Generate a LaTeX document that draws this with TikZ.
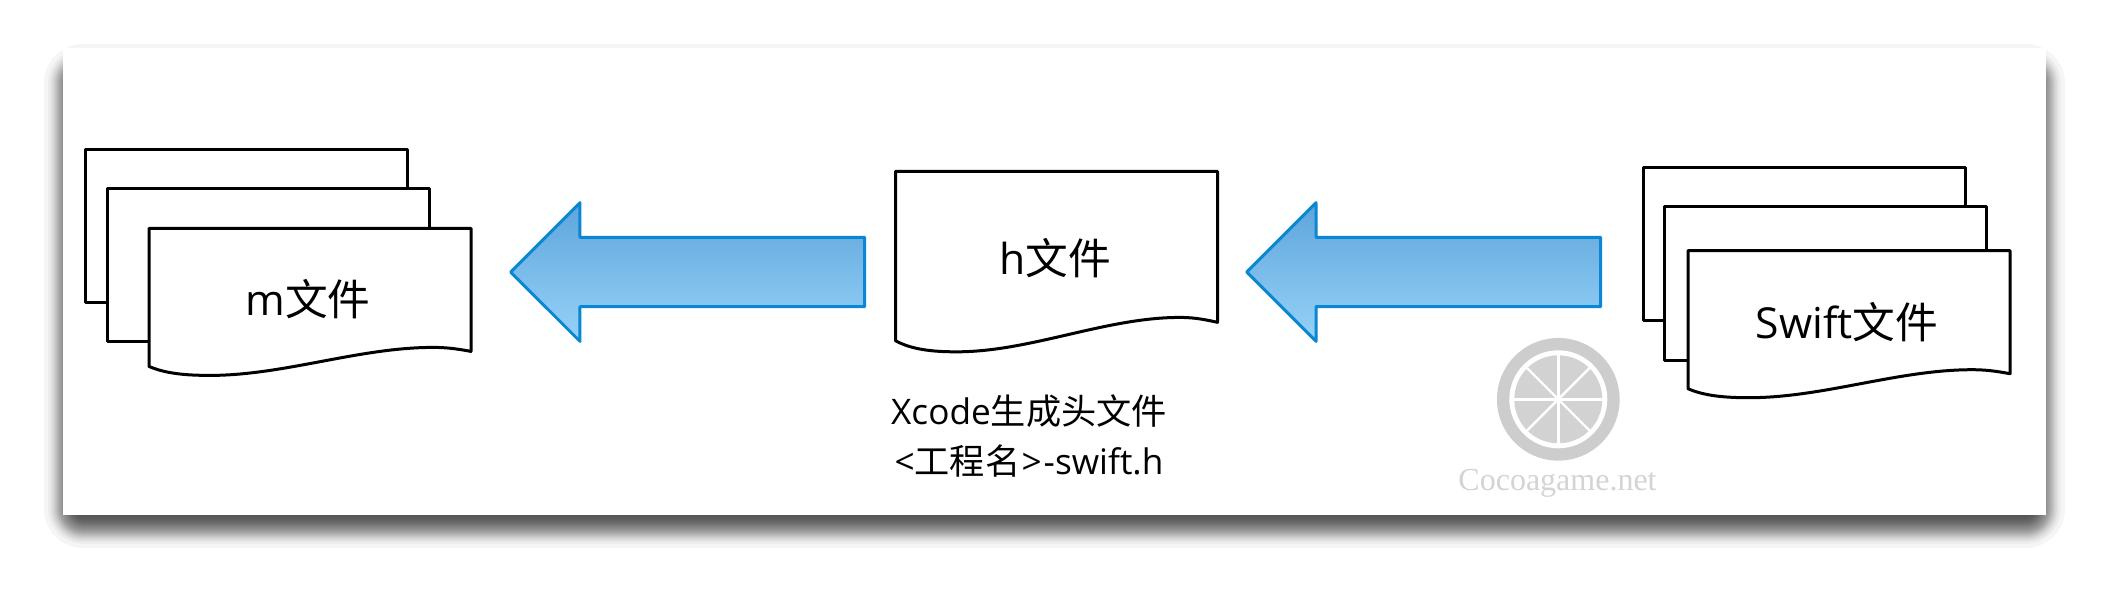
\documentclass[tikz,border=0pt]{standalone}
\usepackage{fontspec}
\usetikzlibrary{shapes.arrows}
\setmainfont{Open Sans}
\newfontfamily\cjk{Noto Sans CJK SC}
\newfontfamily\markfont{Liberation Serif}
\definecolor{arrowline}{RGB}{10,134,210}
\definecolor{arrowtop}{RGB}{94,165,219}
\definecolor{arrowbottom}{RGB}{150,210,248}
\definecolor{logogray}{RGB}{205,205,205}
\tikzset{every picture/.style={line width=0.75pt}}
\tikzset{
	docline/.style={draw=black,line width=2.25pt,line join=round},
	backsheet/.style={docline,fill=white,rectangle,inner sep=0,minimum width=241.5pt,minimum height=115pt},
	doclabel/.style={inner sep=0,font=\fontsize{32}{38}\selectfont},
	bigarrow/.style={single arrow,shape border rotate=180,anchor=tip,draw=arrowline,line width=2.25pt,line join=round,
		top color=arrowtop,bottom color=arrowbottom,inner xsep=0,inner ysep=24.9pt,minimum height=265.5pt,minimum width=102pt,
		single arrow head extend=26pt,single arrow tip angle=90}
}
\newcommand{\docfront}[3]{%
	\draw [docline,fill=white,shift={(#1,#2)},yscale=#3] (0,0) -- (322,0) -- (322,123) .. controls (306,120) and (296,119) .. (284,119) .. controls (210,119) and (135,147) .. (61,147) .. controls (36,147) and (16,145) .. (0,138) -- cycle ;}
\begin{document}
\begin{tikzpicture}[x=0.75pt,y=0.75pt,yscale=-1,xscale=1]
	\useasboundingbox (0,0) rectangle (2108,594);
	\fill [white] (0,0) rectangle (2108,594);

	%Shadow
	\foreach \d [evaluate=\d as \r using (19-\d)*0.75+1] in {-19,-14.6,-12.2,-10.6,-9.2,-8,-6.9,-5.9,-5,-4.1,-3.2,-2.2,-1,0,1,2.2,3.2,4.1,5,5.9,6.9,8,9.2,10.6,12.2,14.6,19}
		\fill [black,fill opacity=0.041,rounded corners=\r pt] ({63+\d},{63+\d}) rectangle ({2046-\d},{529-\d}) ;
	%Panel
	\fill [white] (63,48) rectangle (2046,515) ;

	%m files
	\node [backsheet] (mback) at (246.6,226.3) {};
	\node [backsheet] (mmiddle) at (268,265) {};
	\docfront{149}{228.4}{1}
	\node [doclabel] (mlabel) at (308,299) {m{\cjk 文件}};

	%h file
	\docfront{895.5}{171.3}{1.228}
	\node [doclabel] (hlabel) at (1055,258) {h{\cjk 文件}};
	\node [align=center,inner sep=0,font=\fontsize{26.4}{37.5}\selectfont] (hnote) at (1029,436) {Xcode{\cjk 生成头文件}\\<{\cjk 工程名}\hspace{1pt}>\hspace{1.5pt}-swift.h};

	%Swift files
	\node [backsheet] (sback) at (1804.8,244.2) {};
	\node [backsheet] (smiddle) at (1825.5,283.4) {};
	\docfront{1688}{250.7}{1}
	\node [doclabel] (slabel) at (1847,321.7) {Swift{\cjk 文件}};

	%Block arrows
	\node [bigarrow] (hmarrow) at (508.5,272) {};
	\node [bigarrow] (sharrow) at (1244.5,272) {};

	%Watermark
	\node [circle,fill=logogray,inner sep=0,minimum size=92pt] (logo) at (1558.3,399.3) {};
	\fill [white] (logo) circle [radius=49] ;
	\fill [logogray!90!white] (logo) circle [radius=44] ;
	\foreach \a in {0,45,...,315}
		\draw [white,line width=1.8pt] (logo.center) -- ++(\a:45) ;
	\node [inner sep=0,text=logogray!85!white,font=\markfont\fontsize{24}{28}\selectfont] (logotext) at (1557.5,483) {Cocoagame.net};
\end{tikzpicture}
\end{document}
